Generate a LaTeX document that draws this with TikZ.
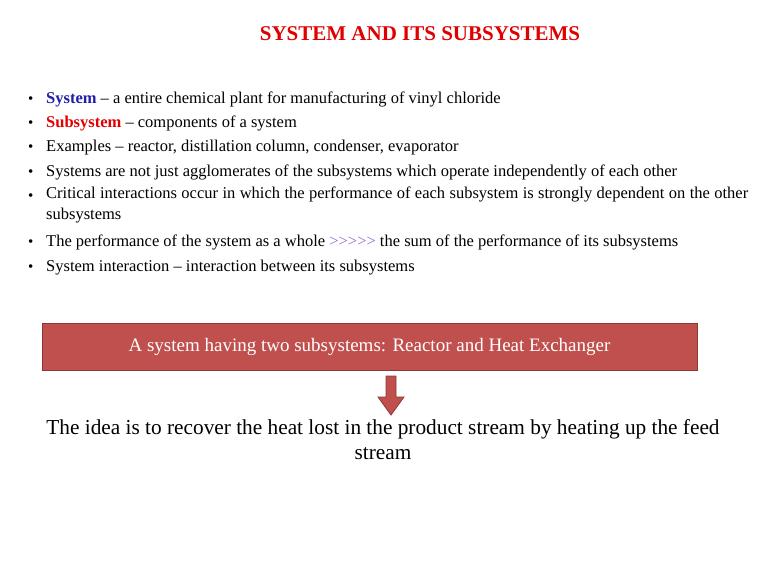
\documentclass[tikz,border=0pt]{standalone}
\usepackage{fontspec}
\setmainfont{Liberation Serif}
\definecolor{tred}{HTML}{E00000}
\definecolor{bblue}{HTML}{1F1FA8}
\definecolor{boxred}{HTML}{C0504D}
\definecolor{boxedge}{HTML}{8C3836}
\definecolor{purp}{HTML}{9966CC}
\begin{document}
\begin{tikzpicture}[x=1pt,y=-1pt,
  bl/.style={anchor=base west,inner sep=0pt,font=\fontsize{16.5}{21}\selectfont},
  bul/.style={anchor=base west,inner sep=0pt,font=\fontsize{15}{17}\selectfont}]
\useasboundingbox (0,0) rectangle (768,576);
\node[text=tred,font=\fontsize{21}{24}\selectfont\bfseries] (title) at (420,34) {SYSTEM AND ITS SUBSYSTEMS};
\foreach \y/\n in {103/b1,127/b2,151/b3,176/b4,200/b5,246/b6,271/b7}
  \node[bul] (\n) at (28,\y) {•};
\node[bl] (t1) at (46,103) {\textcolor{bblue}{\textbf{System}} – a entire chemical plant for manufacturing of vinyl chloride};
\node[bl] (t2) at (46,127) {\textcolor{tred}{\textbf{Subsystem}} – components of a system};
\node[bl] (t3) at (46,151) {Examples – reactor, distillation column, condenser, evaporator};
\node[bl] (t4) at (46,176) {Systems are not just agglomerates of the subsystems which operate independently of each other};
\node[bl,anchor=north west,text width=702pt,align=justify,inner sep=0pt] (t5) at (46,187) {Critical interactions occur in which the performance of each subsystem is strongly dependent on the other subsystems};
\node[bl] (t6) at (46,246) {The performance of the system as a whole \textcolor{purp}{>{}>{}>{}>{}>} the sum of the performance of its subsystems};
\node[bl] (t7) at (46,271) {System interaction – interaction between its subsystems};
\node[draw=boxedge,line width=1pt,fill=boxred,minimum width=655pt,minimum height=47pt,text=white,font=\fontsize{19}{22}\selectfont,inner sep=0pt] (box) at (369.5,346.5) {A system having two subsystems: Reactor and Heat Exchanger};
\fill[boxred,draw=boxedge,line width=0.8pt] (386,376) -- (396,376) -- (396,397) -- (404,397) -- (391,415) -- (378,397) -- (386,397) -- cycle;
\node[align=center,font=\fontsize{21.3}{25}\selectfont,inner sep=0pt,anchor=north] (idea) at (383,419) {The idea is to recover the heat lost in the product stream by heating up the feed\\stream};
\end{tikzpicture}
\end{document}
